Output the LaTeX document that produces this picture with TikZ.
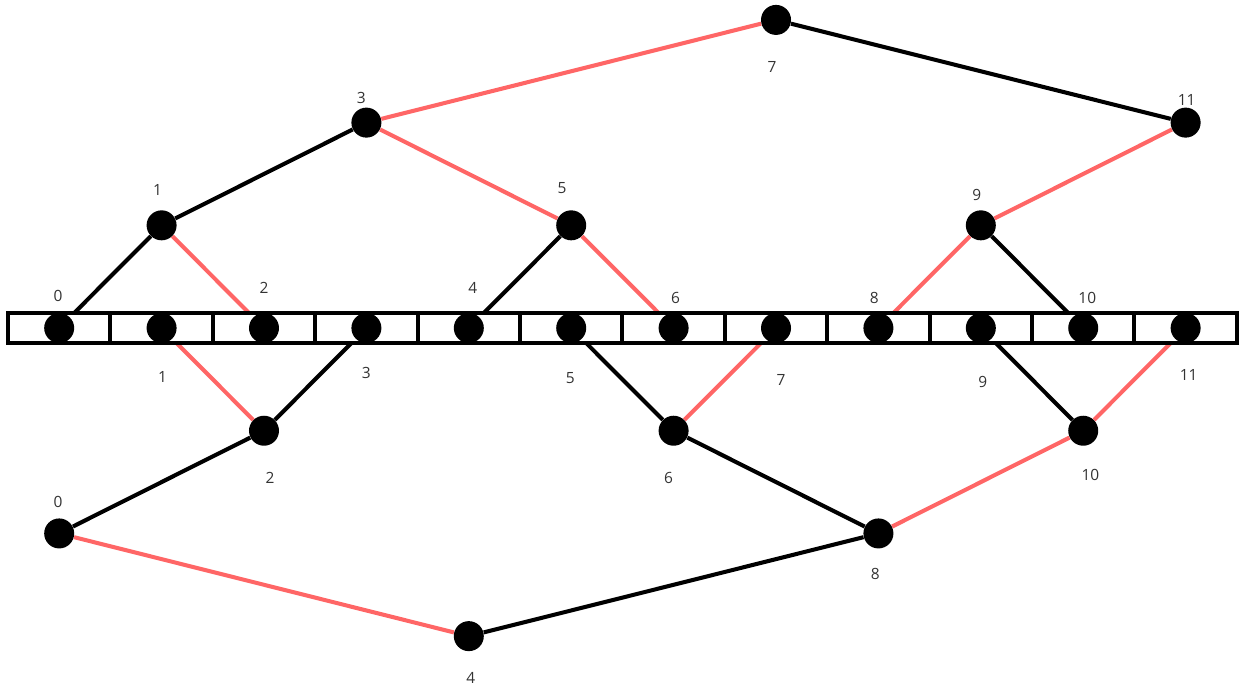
\documentclass[tikz,border=0pt]{standalone}
\usepackage{fontspec}
\setsansfont{Open Sans}
\usepackage{xcolor}
\usepackage{tikz}
\definecolor{edgered}{HTML}{FF6666}
\pgfdeclarelayer{background}
\pgfsetlayers{background,main}
\tikzset{
	vtx/.style={circle, fill=black, inner sep=0pt, minimum size=0.6cm},
	lbl/.style={font=\sffamily\fontsize{8.8}{10}\selectfont, text=black!80, inner sep=0pt, anchor=center},
	redge/.style={line width=2.3pt, edgered},
	bedge/.style={line width=2.3pt, black},
	cellbox/.style={draw, line width=2.3pt, fill=white, minimum width=2.048cm, minimum height=0.6cm, inner sep=0pt}
}
\begin{document}
\begin{tikzpicture}[x=2.048cm, y=2.054cm]
			\useasboundingbox (-0.578,-3.515) rectangle (11.658,3.194);
			%   %   %   %   %   %   %   %   %   %   %
			%   Array cells and their dots
				\foreach \i in {0,...,11}{
					\node[cellbox] (c\i) at (\i,0) {};
				}
				\foreach \i in {0,...,11}{
					\node[vtx] (a\i) at (c\i.center) {};
				}
			%   %   %   %   %   %   %   %   %   %   %
			%   Upper tree
				\node[vtx] (t7) at (7,3) {};
				\node[vtx] (t3) at (3,2) {};
				\node[vtx] (t11) at (11,2) {};
				\node[vtx] (t1) at (1,1) {};
				\node[vtx] (t5) at (5,1) {};
				\node[vtx] (t9) at (9,1) {};
			%   %   %   %   %   %   %   %   %   %   %
			%   Lower tree
				\node[vtx] (b2) at (2,-1) {};
				\node[vtx] (b6) at (6,-1) {};
				\node[vtx] (b10) at (10,-1) {};
				\node[vtx] (b0) at (0,-2) {};
				\node[vtx] (b8) at (8,-2) {};
				\node[vtx] (b4) at (4,-3) {};
			%   %   %   %   %   %   %   %   %   %   %
			%   Upper tree edges
				\begin{pgfonlayer}{background}
				\draw[redge] (t7) -- (t3);
				\draw[bedge] (t7) -- (t11);
				\draw[bedge] (t3) -- (t1);
				\draw[redge] (t3) -- (t5);
				\draw[redge] (t11) -- (t9);
				\draw[bedge] (t1) -- (a0);
				\draw[redge] (t1) -- (a2);
				\draw[bedge] (t5) -- (a4);
				\draw[redge] (t5) -- (a6);
				\draw[redge] (t9) -- (a8);
				\draw[bedge] (t9) -- (a10);
			%   %   %   %   %   %   %   %   %   %   %
			%   Lower tree edges
				\draw[redge] (b2) -- (a1);
				\draw[bedge] (b2) -- (a3);
				\draw[bedge] (b6) -- (a5);
				\draw[redge] (b6) -- (a7);
				\draw[bedge] (b10) -- (a9);
				\draw[redge] (b10) -- (a11);
				\draw[bedge] (b0) -- (b2);
				\draw[bedge] (b8) -- (b6);
				\draw[redge] (b8) -- (b10);
				\draw[redge] (b4) -- (b0);
				\draw[bedge] (b4) -- (b8);
				\end{pgfonlayer}
			%   %   %   %   %   %   %   %   %   %   %
			%   Upper tree labels
				\node[lbl] (lt7) at (6.96,2.54) {7};
				\node[lbl] (lt3) at (2.95,2.24) {3};
				\node[lbl] (lt11) at (11.01,2.22) {11};
				\node[lbl] (lt1) at (0.96,1.34) {1};
				\node[lbl] (lt5) at (4.91,1.36) {5};
				\node[lbl] (lt9) at (8.96,1.30) {9};
				\node[lbl] (lt0) at (-0.01,0.31) {0};
				\node[lbl] (lt2) at (2.0,0.39) {2};
				\node[lbl] (lt4) at (4.04,0.39) {4};
				\node[lbl] (lt6) at (6.02,0.29) {6};
				\node[lbl] (lt8) at (7.96,0.29) {8};
				\node[lbl] (lt10) at (10.04,0.29) {10};
			%   %   %   %   %   %   %   %   %   %   %
			%   Lower tree labels
				\node[lbl] (lb1) at (1.01,-0.48) {1};
				\node[lbl] (lb3) at (3.0,-0.44) {3};
				\node[lbl] (lb5) at (4.99,-0.49) {5};
				\node[lbl] (lb7) at (7.05,-0.51) {7};
				\node[lbl] (lb9) at (9.02,-0.53) {9};
				\node[lbl] (lb11) at (11.03,-0.46) {11};
				\node[lbl] (lb2) at (2.06,-1.46) {2};
				\node[lbl] (lb6) at (5.95,-1.46) {6};
				\node[lbl] (lb10) at (10.07,-1.43) {10};
				\node[lbl] (lb0) at (-0.01,-1.69) {0};
				\node[lbl] (lb8) at (7.97,-2.39) {8};
				\node[lbl] (lb4) at (4.02,-3.41) {4};
\end{tikzpicture}
\end{document}
